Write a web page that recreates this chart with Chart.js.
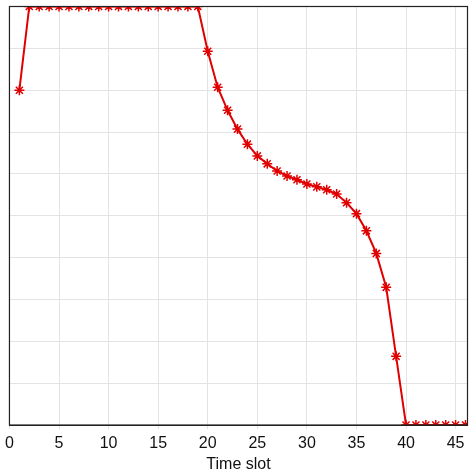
<!DOCTYPE html>
<html>
<head>
<meta charset="utf-8">
<script src="https://cdn.jsdelivr.net/npm/chart.js@4"></script>
<style>
html, body { margin: 0; padding: 0; background: #fff; }
#wrap { width: 474px; height: 474px; }
</style>
</head>
<body>
<div id="wrap"><canvas id="c"></canvas></div>
<script>
var slots = [1,2,3,4,5,6,7,8,9,10,11,12,13,14,15,16,17,18,19,20,21,22,23,24,25,26,27,28,29,30,31,32,33,34,35,36,37,38,39,40,41,42,43,44,45,46];
var values = [8,10,10,10,10,10,10,10,10,10,10,10,10,10,10,10,10,10,10,
  8.93,8.07,7.52,7.07,6.71,6.43,6.24,6.07,5.95,5.86,5.76,5.69,5.62,5.52,5.31,5.05,4.64,4.10,3.29,1.64,0,
  0,0,0,0,0,0];
var xTicks = [0,5,10,15,20,25,30,35,40,45];

var frame = {
  id: 'frame',
  afterDraw: function(chart) {
    var a = chart.chartArea, ctx = chart.ctx;
    ctx.save();
    ctx.strokeStyle = '#222';
    ctx.lineWidth = 1.2;
    ctx.strokeRect(a.left, a.top, a.right - a.left, a.bottom - a.top);
    ctx.restore();
  }
};

new Chart(document.getElementById('c'), {
  type: 'line',
  data: {
    datasets: [{
      data: slots.map(function(s, i) { return { x: s, y: values[i] }; }),
      borderColor: '#e00000',
      backgroundColor: '#e00000',
      borderWidth: 2,
      pointStyle: 'star',
      pointRadius: 5,
      pointBorderWidth: 1.5,
      tension: 0
    }]
  },
  options: {
    responsive: true,
    maintainAspectRatio: false,
    animation: false,
    layout: { padding: { left: 8, right: 4, top: 5, bottom: 0 } },
    plugins: { legend: { display: false }, tooltip: { enabled: false } },
    scales: {
      x: {
        type: 'linear',
        min: 0,
        max: 46.2,
        afterBuildTicks: function(axis) { axis.ticks = xTicks.map(function(v) { return { value: v }; }); },
        grid: { color: '#e3e3e3', tickLength: 4 },
        border: { color: '#222' },
        ticks: { color: '#111', font: { family: 'Liberation Sans', size: 16 }, padding: 5, maxRotation: 0 },
        title: { display: true, text: 'Time slot', color: '#111', font: { family: 'Liberation Sans', size: 16 }, padding: { top: 7, bottom: 0 } },
        afterFit: function(axis) { axis.height = 49; }
      },
      y: {
        min: 0,
        max: 10,
        ticks: { display: false, stepSize: 1 },
        grid: { color: '#e3e3e3', drawTicks: false },
        border: { color: '#222' }
      }
    }
  },
  plugins: [frame]
});
</script>
</body>
</html>
